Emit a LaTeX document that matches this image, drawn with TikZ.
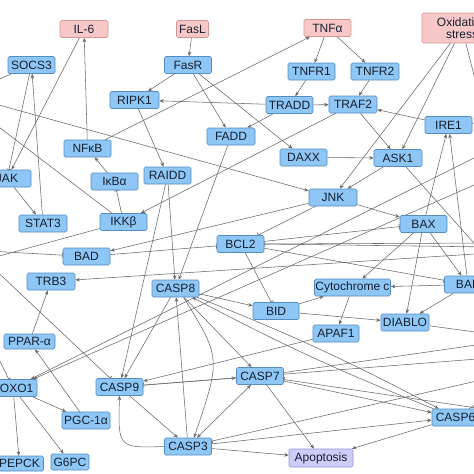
\documentclass[tikz,border=0pt]{standalone}
\usepackage{fontspec}
\setmainfont{Liberation Sans}
\usetikzlibrary{arrows.meta}
\definecolor{bfill}{RGB}{142,198,245}
\definecolor{bdraw}{RGB}{84,140,196}
\definecolor{pfill}{RGB}{248,200,200}
\definecolor{pdraw}{RGB}{214,150,150}
\definecolor{vfill}{RGB}{206,204,248}
\definecolor{vdraw}{RGB}{150,148,210}
\definecolor{edgec}{RGB}{105,105,105}
\definecolor{txtc}{RGB}{22,32,48}
\pgfdeclarelayer{back}
\pgfdeclarelayer{edges}
\pgfsetlayers{back,edges,main}
\tikzset{
 nd/.style={draw=bdraw, fill=bfill, rounded corners=1.5pt, line width=0.6pt, inner sep=0pt,
   minimum height=17pt, text=txtc, font=\fontsize{12}{12.5}\selectfont, align=center},
 bl/.style={nd},
 pk/.style={nd, draw=pdraw, fill=pfill},
 vi/.style={nd, draw=vdraw, fill=vfill},
 ln/.style={draw=edgec, line width=0.55pt},
 ar/.style={ln, -{Stealth[length=4.5pt,width=3.6pt]}},
 ar2/.style={ln, {Stealth[length=4.5pt,width=3.6pt]}-{Stealth[length=4.5pt,width=3.6pt]}},
 ih/.style={ln, -{Bar[width=5pt,line width=0.7pt]}},
}
\begin{document}
\begin{tikzpicture}[x=1pt,y=-1pt]
\useasboundingbox (0,0) rectangle (474,474);
\begin{pgfonlayer}{back}
\fill[white] (0,0) rectangle (474,474);
\end{pgfonlayer}
% nodes
\node[pk, minimum width=48pt] (il6) at (84,29) {IL-6};
\node[pk, minimum width=32pt] (fasl) at (192.5,29) {FasL};
\node[pk, minimum width=47pt] (tnfa) at (327.5,28) {TNFα};
\node[pk, minimum width=80pt, minimum height=30pt] (ox) at (462,28) {Oxidative\\stress};
\node[bl, minimum width=47pt] (socs3) at (31.5,65) {SOCS3};
\node[bl, minimum width=47pt] (fasr) at (188,65) {FasR};
\node[bl, minimum width=47pt] (tnfr1) at (311.5,71.5) {TNFR1};
\node[bl, minimum width=48pt] (tnfr2) at (375,71.5) {TNFR2};
\node[bl, minimum width=49pt] (ripk1) at (134.5,100) {RIPK1};
\node[bl, minimum width=47pt] (tradd) at (289.5,105) {TRADD};
\node[bl, minimum width=48pt] (traf2) at (353,104.5) {TRAF2};
\node[bl, minimum width=47pt] (ire1) at (448.5,125) {IRE1};
\node[bl, minimum width=48pt] (fadd) at (231,136.5) {FADD};
\node[bl, minimum width=47pt] (nfkb) at (87.5,148.5) {NFκB};
\node[bl, minimum width=47pt] (daxx) at (303.5,157.5) {DAXX};
\node[bl, minimum width=48pt] (ask1) at (398,158) {ASK1};
\node[bl, minimum width=48pt] (jak) at (7,178.5) {JAK};
\node[bl, minimum width=47pt] (ikba) at (114.5,181.5) {IκBα};
\node[bl, minimum width=47pt] (raidd) at (167.5,175.5) {RAIDD};
\node[bl, minimum width=48pt] (jnk) at (333,197.5) {JNK};
\node[bl, minimum width=48pt] (stat3) at (43,223.5) {STAT3};
\node[bl, minimum width=47pt] (ikkb) at (123.5,222) {IKKβ};
\node[bl, minimum width=47pt] (bax) at (423.5,224) {BAX};
\node[bl, minimum width=47pt] (bcl2) at (240.5,244) {BCL2};
\node[bl, minimum width=47pt] (bad) at (86.5,256.5) {BAD};
\node[bl, minimum width=48pt] (trb3) at (51,281.5) {TRB3};
\node[bl, minimum width=47pt] (bak) at (468,284.5) {BAK};
\node[bl, minimum width=76pt] (cytc) at (352.5,287.5) {Cytochrome c};
\node[bl, minimum width=47pt] (casp8) at (175.5,288.5) {CASP8};
\node[bl, minimum width=46pt] (bid) at (276,311) {BID};
\node[bl, minimum width=48pt] (diablo) at (405,322.5) {DIABLO};
\node[bl, minimum width=46pt] (apaf1) at (336,333.5) {APAF1};
\node[bl, minimum width=51pt, minimum height=15pt] (ppara) at (29.5,341.5) {PPAR-α};
\node[bl, minimum width=47pt] (casp7) at (260,376) {CASP7};
\node[bl, minimum width=47pt] (casp9) at (119.5,387) {CASP9};
\node[bl, minimum width=48pt] (foxo1) at (13,388) {FOXO1};
\node[bl, minimum width=48pt] (pgc) at (86,420.5) {PGC-1α};
\node[bl, minimum width=47pt] (casp6) at (455.5,417.5) {CASP6};
\node[bl, minimum width=47pt] (casp3) at (188,446.5) {CASP3};
\node[vi, minimum width=64pt, minimum height=18pt] (apop) at (321,458) {Apoptosis};
\node[bl, minimum width=38pt, minimum height=16pt] (g6pc) at (70,462) {G6PC};
\node[bl, minimum width=48pt, minimum height=15pt] (pepck) at (19.5,463.5) {PEPCK};
% off-picture ends
\coordinate (oOx) at (478,91);
\coordinate (oSo) at (-30,92);
\coordinate (oJ) at (-30,97);
\coordinate (oI1) at (-30,105);
\coordinate (oI2) at (-30,264);
\coordinate (oA) at (490,261);
\coordinate (oB) at (-30,250);
\coordinate (oC1) at (490,243);
\coordinate (oC2) at (490,247);
\coordinate (oK) at (-30,246);
\coordinate (oX1) at (490,358);
\coordinate (oX2) at (490,410);
\coordinate (oX3) at (490,343);
\coordinate (oX4) at (490,378);
\coordinate (oD) at (490,334);
\coordinate (oT) at (490,253);
\coordinate (oF1) at (490,150);
\coordinate (oF2) at (490,178);
\coordinate (oF3) at (-20,320);
\coordinate (oC6) at (490,395);
\coordinate (oIR) at (490,122);
\begin{pgfonlayer}{edges}
\draw[ar] (fasl) -- (fasr);
\draw[ar] (fasr) -- (ripk1);
\draw[ar] (fasr) -- (fadd);
\draw[ar] (fasr) -- (daxx);
\draw[ar] (tnfa) -- (tnfr1);
\draw[ar] (tnfa) -- (tnfr2);
\draw[ar] (tnfr1) -- (tradd);
\draw[ar] (tnfr2) -- (traf2);
\draw[ar] (tradd) -- (ripk1);
\draw[ar] (tradd) -- (traf2);
\draw[ar] (tradd) -- (fadd);
\draw[ar] (traf2) -- (ask1);
\draw[ar] (traf2) -- (ikkb);
\draw[ar] (ire1) -- (traf2);
\draw[ln] (ire1) -- (oIR);
\draw[ar] (ox) -- (ask1);
\draw[ar] (ox) -- (jnk);
\draw[ln] (ox) -- (oOx);
\draw[ar] (nfkb) -- (tnfa);
\draw[ar] (nfkb) -- (il6);
\draw[ar] (il6) -- (jak);
\draw[ih] (socs3) -- (jak);
\draw[ar] (stat3) -- (socs3);
\draw[ar] (jak) -- (stat3);
\draw[ln] (socs3) -- (oSo);
\draw[ar] (oJ) -- (jnk);
\draw[ln] (ikkb) -- (oI1);
\draw[ln] (ikkb) -- (oI2);
\draw[ar] (ripk1) -- (raidd);
\draw[ih] (ikkb) -- (ikba);
\draw[ar] (ikba) -- (nfkb);
\draw[ar] (raidd) -- (casp8);
\draw[ar] (raidd) -- (casp9);
\draw[ar] (fadd) -- (casp8);
\draw[ar] (daxx) -- (ask1);
\draw[ar] (ask1) -- (jnk);
\draw[ln] (ask1) -- (oA);
\draw[ar] (jnk) -- (bax);
\draw[ih] (jnk) -- (bcl2);
\draw[ar] (jnk) -- (bad);
\draw[ih] (bad) -- (bcl2);
\draw[ih] (oB) -- (bad);
\draw[ih] (bcl2) -- (bax);
\draw[ih] (oC1) -- (bcl2.east);
\draw[ln] (oC2) -- (bcl2.east);
\draw[ih] (bcl2) -- (bak);
\draw[ih] (bcl2) -- (bid);
\draw[ar] (bax) -- (cytc);
\draw[ar] (bax) -- (diablo);
\draw[ar] (bax) -- (bak);
\draw[ar] (bax) -- (ire1);
\draw[ar] (bak) -- (ire1);
\draw[ar] (bak) -- (cytc);
\draw[ar] (bak) -- (diablo);
\draw[ar] (cytc) -- (apaf1);
\draw[ar] (bid) -- (cytc);
\draw[ar] (bid) -- (diablo);
\draw[ar] (casp8) -- (bid);
\draw[ar] (apaf1) -- (casp9);
\draw[ar] (casp8) -- (casp9);
\draw[ih] (oK) -- (casp9);
\draw[ar] (casp9) -- (casp7);
\draw[ar] (casp9) -- (casp3);
\draw[ar] (casp3.west) .. controls (118,448) .. (casp9.south);
\draw[ar] (casp3) -- (casp8);
\draw[ar] ([xshift=8pt]casp8.south) .. controls (221,358) .. ([xshift=6pt]casp3.north);
\draw[ar] (casp8) -- (casp7);
\draw[ar2] (casp3) -- (casp7);
\draw[ar] (casp7) -- (apop);
\draw[ar] (casp3) -- (apop);
\draw[ar] (casp6) -- (apop);
\draw[ar] (casp3) -- (casp6);
\draw[ar] (casp7) -- (casp6);
\draw[ar] (casp8) to[bend left=3] (casp6);
\draw[ar] (casp6) to[bend left=3] (casp8);
\draw[ih] (oX1) -- (casp9);
\draw[ih] (oX2) -- (casp7);
\draw[ln] (casp7) -- (oX3);
\draw[ih] (oX4) -- (casp3);
\draw[ln] (diablo) -- (oD);
\draw[ar] (oT) -- (trb3);
\draw[ar] (oF1) -- (foxo1);
\draw[ar] (oF2) -- (foxo1);
\draw[ih] (oF3) -- (foxo1);
\draw[ar] (ppara) -- (trb3);
\draw[ar] (pgc) -- (ppara);
\draw[ar] (foxo1) -- (pgc);
\draw[ar] (foxo1) -- (pepck);
\draw[ar] (foxo1) -- (g6pc);
\draw[ln] (casp6) -- (oC6);
\end{pgfonlayer}
\end{tikzpicture}
\end{document}
